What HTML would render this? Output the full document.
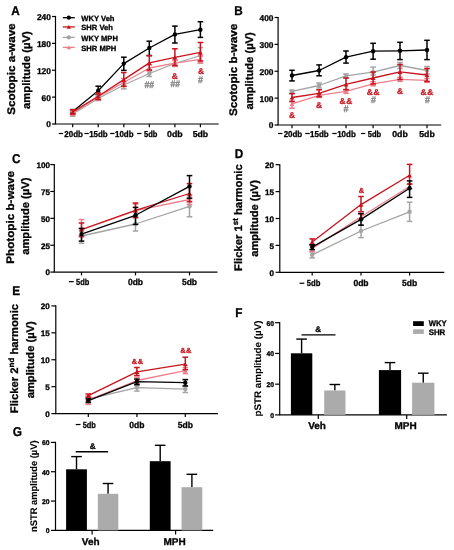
<!DOCTYPE html>
<html><head><meta charset="utf-8"><title>Figure</title>
<style>
html,body{margin:0;padding:0;background:#fff;}
body{width:454px;height:550px;overflow:hidden;}
svg{display:block;will-change:transform;text-rendering:geometricPrecision;}
text{font-family:"Liberation Sans", sans-serif;stroke:currentColor;stroke-width:0.3px;}
</style></head><body>
<svg width="454" height="550" viewBox="0 0 454 550">
<rect width="454" height="550" fill="#fff"/>
<text x="15.60" y="14.80" font-size="12.8" font-weight="bold" text-anchor="middle" fill="#000" color="#000" textLength="8.5" lengthAdjust="spacingAndGlyphs">A</text>
<text x="0" y="0" font-size="11.0" font-weight="bold" text-anchor="middle" fill="#000" textLength="91.4" lengthAdjust="spacingAndGlyphs" transform="translate(14.80,69.10) rotate(-90)">Scotopic a-wave</text>
<text x="0" y="0" font-size="11.0" font-weight="bold" text-anchor="middle" fill="#000" textLength="77.6" lengthAdjust="spacingAndGlyphs" transform="translate(30.20,70.10) rotate(-90)">amplitude (µV)</text>
<line x1="55.50" y1="15.90" x2="55.50" y2="124.00" stroke="#000" stroke-width="1.2"/>
<line x1="52.00" y1="124.00" x2="55.50" y2="124.00" stroke="#000" stroke-width="1.2"/>
<text x="50.90" y="127.41" font-size="8.4" font-weight="bold" text-anchor="end" fill="#000" color="#000">0</text>
<line x1="52.00" y1="97.12" x2="55.50" y2="97.12" stroke="#000" stroke-width="1.2"/>
<text x="50.90" y="100.53" font-size="8.4" font-weight="bold" text-anchor="end" fill="#000" color="#000">60</text>
<line x1="52.00" y1="70.25" x2="55.50" y2="70.25" stroke="#000" stroke-width="1.2"/>
<text x="50.90" y="73.66" font-size="8.4" font-weight="bold" text-anchor="end" fill="#000" color="#000">120</text>
<line x1="52.00" y1="43.38" x2="55.50" y2="43.38" stroke="#000" stroke-width="1.2"/>
<text x="50.90" y="46.78" font-size="8.4" font-weight="bold" text-anchor="end" fill="#000" color="#000">180</text>
<line x1="52.00" y1="16.50" x2="55.50" y2="16.50" stroke="#000" stroke-width="1.2"/>
<text x="50.90" y="19.91" font-size="8.4" font-weight="bold" text-anchor="end" fill="#000" color="#000">240</text>
<line x1="54.90" y1="124.00" x2="218.70" y2="124.00" stroke="#000" stroke-width="1.2"/>
<line x1="72.70" y1="124.00" x2="72.70" y2="127.30" stroke="#000" stroke-width="1.2"/>
<rect x="58.75" y="132.90" width="4.40" height="1.20" fill="#000"/>
<text x="73.65" y="136.60" font-size="8.6" font-weight="bold" text-anchor="middle" fill="#000" color="#000" textLength="18.6" lengthAdjust="spacingAndGlyphs">20db</text>
<line x1="98.20" y1="124.00" x2="98.20" y2="127.30" stroke="#000" stroke-width="1.2"/>
<rect x="84.40" y="132.90" width="4.40" height="1.20" fill="#000"/>
<text x="98.45" y="136.60" font-size="8.6" font-weight="bold" text-anchor="middle" fill="#000" color="#000" textLength="18.6" lengthAdjust="spacingAndGlyphs">15db</text>
<line x1="123.80" y1="124.00" x2="123.80" y2="127.30" stroke="#000" stroke-width="1.2"/>
<rect x="110.10" y="132.90" width="4.40" height="1.20" fill="#000"/>
<text x="124.30" y="136.60" font-size="8.6" font-weight="bold" text-anchor="middle" fill="#000" color="#000" textLength="18.6" lengthAdjust="spacingAndGlyphs">10db</text>
<line x1="149.30" y1="124.00" x2="149.30" y2="127.30" stroke="#000" stroke-width="1.2"/>
<rect x="137.10" y="132.90" width="4.40" height="1.20" fill="#000"/>
<text x="150.65" y="136.60" font-size="8.6" font-weight="bold" text-anchor="middle" fill="#000" color="#000" textLength="13.4" lengthAdjust="spacingAndGlyphs">5db</text>
<line x1="174.90" y1="124.00" x2="174.90" y2="127.30" stroke="#000" stroke-width="1.2"/>
<text x="174.90" y="136.60" font-size="8.6" font-weight="bold" text-anchor="middle" fill="#000" color="#000" textLength="15.6" lengthAdjust="spacingAndGlyphs">0db</text>
<line x1="200.40" y1="124.00" x2="200.40" y2="127.30" stroke="#000" stroke-width="1.2"/>
<text x="200.40" y="136.60" font-size="8.6" font-weight="bold" text-anchor="middle" fill="#000" color="#000" textLength="15.5" lengthAdjust="spacingAndGlyphs">5db</text>
<path d="M72.70,111.40 L98.20,90.70 L123.80,63.60 L149.30,48.00 L174.90,34.40 L200.40,29.70" fill="none" stroke="#000000" stroke-width="1.3" stroke-linejoin="round"/>
<line x1="72.70" y1="109.60" x2="72.70" y2="113.20" stroke="#000000" stroke-width="1.5"/>
<line x1="69.90" y1="109.60" x2="75.50" y2="109.60" stroke="#000000" stroke-width="1.5"/>
<line x1="69.90" y1="113.20" x2="75.50" y2="113.20" stroke="#000000" stroke-width="1.5"/>
<line x1="98.20" y1="86.20" x2="98.20" y2="94.60" stroke="#000000" stroke-width="1.5"/>
<line x1="95.40" y1="86.20" x2="101.00" y2="86.20" stroke="#000000" stroke-width="1.5"/>
<line x1="95.40" y1="94.60" x2="101.00" y2="94.60" stroke="#000000" stroke-width="1.5"/>
<line x1="123.80" y1="57.20" x2="123.80" y2="70.40" stroke="#000000" stroke-width="1.5"/>
<line x1="121.00" y1="57.20" x2="126.60" y2="57.20" stroke="#000000" stroke-width="1.5"/>
<line x1="121.00" y1="70.40" x2="126.60" y2="70.40" stroke="#000000" stroke-width="1.5"/>
<line x1="149.30" y1="41.20" x2="149.30" y2="55.60" stroke="#000000" stroke-width="1.5"/>
<line x1="146.50" y1="41.20" x2="152.10" y2="41.20" stroke="#000000" stroke-width="1.5"/>
<line x1="146.50" y1="55.60" x2="152.10" y2="55.60" stroke="#000000" stroke-width="1.5"/>
<line x1="174.90" y1="26.10" x2="174.90" y2="43.00" stroke="#000000" stroke-width="1.5"/>
<line x1="172.10" y1="26.10" x2="177.70" y2="26.10" stroke="#000000" stroke-width="1.5"/>
<line x1="172.10" y1="43.00" x2="177.70" y2="43.00" stroke="#000000" stroke-width="1.5"/>
<line x1="200.40" y1="21.70" x2="200.40" y2="37.40" stroke="#000000" stroke-width="1.5"/>
<line x1="197.60" y1="21.70" x2="203.20" y2="21.70" stroke="#000000" stroke-width="1.5"/>
<line x1="197.60" y1="37.40" x2="203.20" y2="37.40" stroke="#000000" stroke-width="1.5"/>
<circle cx="72.70" cy="111.40" r="2.2" fill="#000000"/>
<circle cx="98.20" cy="90.70" r="2.2" fill="#000000"/>
<circle cx="123.80" cy="63.60" r="2.2" fill="#000000"/>
<circle cx="149.30" cy="48.00" r="2.2" fill="#000000"/>
<circle cx="174.90" cy="34.40" r="2.2" fill="#000000"/>
<circle cx="200.40" cy="29.70" r="2.2" fill="#000000"/>
<path d="M72.70,114.00 L98.20,98.50 L123.80,85.00 L149.30,73.50 L174.90,63.50 L200.40,55.50" fill="none" stroke="#a4a4a4" stroke-width="1.3" stroke-linejoin="round"/>
<line x1="72.70" y1="111.80" x2="72.70" y2="116.30" stroke="#a4a4a4" stroke-width="1.5"/>
<line x1="69.90" y1="111.80" x2="75.50" y2="111.80" stroke="#a4a4a4" stroke-width="1.5"/>
<line x1="69.90" y1="116.30" x2="75.50" y2="116.30" stroke="#a4a4a4" stroke-width="1.5"/>
<line x1="98.20" y1="96.50" x2="98.20" y2="100.50" stroke="#a4a4a4" stroke-width="1.5"/>
<line x1="95.40" y1="96.50" x2="101.00" y2="96.50" stroke="#a4a4a4" stroke-width="1.5"/>
<line x1="95.40" y1="100.50" x2="101.00" y2="100.50" stroke="#a4a4a4" stroke-width="1.5"/>
<line x1="123.80" y1="82.00" x2="123.80" y2="88.90" stroke="#a4a4a4" stroke-width="1.5"/>
<line x1="121.00" y1="82.00" x2="126.60" y2="82.00" stroke="#a4a4a4" stroke-width="1.5"/>
<line x1="121.00" y1="88.90" x2="126.60" y2="88.90" stroke="#a4a4a4" stroke-width="1.5"/>
<line x1="149.30" y1="70.50" x2="149.30" y2="76.50" stroke="#a4a4a4" stroke-width="1.5"/>
<line x1="146.50" y1="70.50" x2="152.10" y2="70.50" stroke="#a4a4a4" stroke-width="1.5"/>
<line x1="146.50" y1="76.50" x2="152.10" y2="76.50" stroke="#a4a4a4" stroke-width="1.5"/>
<line x1="174.90" y1="60.50" x2="174.90" y2="66.50" stroke="#a4a4a4" stroke-width="1.5"/>
<line x1="172.10" y1="60.50" x2="177.70" y2="60.50" stroke="#a4a4a4" stroke-width="1.5"/>
<line x1="172.10" y1="66.50" x2="177.70" y2="66.50" stroke="#a4a4a4" stroke-width="1.5"/>
<line x1="200.40" y1="47.50" x2="200.40" y2="63.00" stroke="#a4a4a4" stroke-width="1.5"/>
<line x1="197.60" y1="47.50" x2="203.20" y2="47.50" stroke="#a4a4a4" stroke-width="1.5"/>
<line x1="197.60" y1="63.00" x2="203.20" y2="63.00" stroke="#a4a4a4" stroke-width="1.5"/>
<circle cx="72.70" cy="114.00" r="2.2" fill="#a4a4a4"/>
<circle cx="98.20" cy="98.50" r="2.2" fill="#a4a4a4"/>
<circle cx="123.80" cy="85.00" r="2.2" fill="#a4a4a4"/>
<circle cx="149.30" cy="73.50" r="2.2" fill="#a4a4a4"/>
<circle cx="174.90" cy="63.50" r="2.2" fill="#a4a4a4"/>
<circle cx="200.40" cy="55.50" r="2.2" fill="#a4a4a4"/>
<path d="M72.70,113.00 L98.20,96.80 L123.80,82.50 L149.30,68.00 L174.90,63.20 L200.40,59.40" fill="none" stroke="#ef7f8c" stroke-width="1.3" stroke-linejoin="round"/>
<line x1="72.70" y1="111.00" x2="72.70" y2="115.00" stroke="#ef7f8c" stroke-width="1.5"/>
<line x1="69.90" y1="111.00" x2="75.50" y2="111.00" stroke="#ef7f8c" stroke-width="1.5"/>
<line x1="69.90" y1="115.00" x2="75.50" y2="115.00" stroke="#ef7f8c" stroke-width="1.5"/>
<line x1="98.20" y1="93.80" x2="98.20" y2="99.80" stroke="#ef7f8c" stroke-width="1.5"/>
<line x1="95.40" y1="93.80" x2="101.00" y2="93.80" stroke="#ef7f8c" stroke-width="1.5"/>
<line x1="95.40" y1="99.80" x2="101.00" y2="99.80" stroke="#ef7f8c" stroke-width="1.5"/>
<line x1="123.80" y1="78.50" x2="123.80" y2="86.50" stroke="#ef7f8c" stroke-width="1.5"/>
<line x1="121.00" y1="78.50" x2="126.60" y2="78.50" stroke="#ef7f8c" stroke-width="1.5"/>
<line x1="121.00" y1="86.50" x2="126.60" y2="86.50" stroke="#ef7f8c" stroke-width="1.5"/>
<line x1="149.30" y1="65.00" x2="149.30" y2="71.00" stroke="#ef7f8c" stroke-width="1.5"/>
<line x1="146.50" y1="65.00" x2="152.10" y2="65.00" stroke="#ef7f8c" stroke-width="1.5"/>
<line x1="146.50" y1="71.00" x2="152.10" y2="71.00" stroke="#ef7f8c" stroke-width="1.5"/>
<line x1="174.90" y1="60.20" x2="174.90" y2="66.20" stroke="#ef7f8c" stroke-width="1.5"/>
<line x1="172.10" y1="60.20" x2="177.70" y2="60.20" stroke="#ef7f8c" stroke-width="1.5"/>
<line x1="172.10" y1="66.20" x2="177.70" y2="66.20" stroke="#ef7f8c" stroke-width="1.5"/>
<line x1="200.40" y1="56.00" x2="200.40" y2="63.00" stroke="#ef7f8c" stroke-width="1.5"/>
<line x1="197.60" y1="56.00" x2="203.20" y2="56.00" stroke="#ef7f8c" stroke-width="1.5"/>
<line x1="197.60" y1="63.00" x2="203.20" y2="63.00" stroke="#ef7f8c" stroke-width="1.5"/>
<polygon points="70.28,115.11 75.12,115.11 72.70,110.89" fill="#ef7f8c"/>
<polygon points="95.78,98.91 100.62,98.91 98.20,94.69" fill="#ef7f8c"/>
<polygon points="121.38,84.61 126.22,84.61 123.80,80.39" fill="#ef7f8c"/>
<polygon points="146.88,70.11 151.72,70.11 149.30,65.89" fill="#ef7f8c"/>
<polygon points="172.48,65.31 177.32,65.31 174.90,61.09" fill="#ef7f8c"/>
<polygon points="197.98,61.51 202.82,61.51 200.40,57.29" fill="#ef7f8c"/>
<path d="M72.70,112.00 L98.20,96.20 L123.80,79.60 L149.30,62.90 L174.90,57.40 L200.40,52.30" fill="none" stroke="#c8141e" stroke-width="1.3" stroke-linejoin="round"/>
<line x1="72.70" y1="109.70" x2="72.70" y2="114.10" stroke="#c8141e" stroke-width="1.5"/>
<line x1="69.90" y1="109.70" x2="75.50" y2="109.70" stroke="#c8141e" stroke-width="1.5"/>
<line x1="69.90" y1="114.10" x2="75.50" y2="114.10" stroke="#c8141e" stroke-width="1.5"/>
<line x1="98.20" y1="93.00" x2="98.20" y2="99.50" stroke="#c8141e" stroke-width="1.5"/>
<line x1="95.40" y1="93.00" x2="101.00" y2="93.00" stroke="#c8141e" stroke-width="1.5"/>
<line x1="95.40" y1="99.50" x2="101.00" y2="99.50" stroke="#c8141e" stroke-width="1.5"/>
<line x1="123.80" y1="72.60" x2="123.80" y2="86.30" stroke="#c8141e" stroke-width="1.5"/>
<line x1="121.00" y1="72.60" x2="126.60" y2="72.60" stroke="#c8141e" stroke-width="1.5"/>
<line x1="121.00" y1="86.30" x2="126.60" y2="86.30" stroke="#c8141e" stroke-width="1.5"/>
<line x1="149.30" y1="55.60" x2="149.30" y2="70.00" stroke="#c8141e" stroke-width="1.5"/>
<line x1="146.50" y1="55.60" x2="152.10" y2="55.60" stroke="#c8141e" stroke-width="1.5"/>
<line x1="146.50" y1="70.00" x2="152.10" y2="70.00" stroke="#c8141e" stroke-width="1.5"/>
<line x1="174.90" y1="48.80" x2="174.90" y2="65.50" stroke="#c8141e" stroke-width="1.5"/>
<line x1="172.10" y1="48.80" x2="177.70" y2="48.80" stroke="#c8141e" stroke-width="1.5"/>
<line x1="172.10" y1="65.50" x2="177.70" y2="65.50" stroke="#c8141e" stroke-width="1.5"/>
<line x1="200.40" y1="42.50" x2="200.40" y2="61.00" stroke="#c8141e" stroke-width="1.5"/>
<line x1="197.60" y1="42.50" x2="203.20" y2="42.50" stroke="#c8141e" stroke-width="1.5"/>
<line x1="197.60" y1="61.00" x2="203.20" y2="61.00" stroke="#c8141e" stroke-width="1.5"/>
<polygon points="70.28,114.11 75.12,114.11 72.70,109.89" fill="#c8141e"/>
<polygon points="95.78,98.31 100.62,98.31 98.20,94.09" fill="#c8141e"/>
<polygon points="121.38,81.71 126.22,81.71 123.80,77.49" fill="#c8141e"/>
<polygon points="146.88,65.01 151.72,65.01 149.30,60.79" fill="#c8141e"/>
<polygon points="172.48,59.51 177.32,59.51 174.90,55.29" fill="#c8141e"/>
<polygon points="197.98,54.41 202.82,54.41 200.40,50.19" fill="#c8141e"/>
<text x="149.30" y="88.06" font-size="9.6" font-weight="bold" text-anchor="middle" fill="#858585" color="#858585" textLength="9.6" lengthAdjust="spacingAndGlyphs">##</text>
<text x="174.70" y="79.22" font-size="8.4" font-weight="bold" text-anchor="middle" fill="#c8141e" color="#c8141e">&amp;</text>
<text x="175.30" y="87.36" font-size="9.6" font-weight="bold" text-anchor="middle" fill="#858585" color="#858585" textLength="9.6" lengthAdjust="spacingAndGlyphs">##</text>
<text x="201.00" y="74.32" font-size="8.4" font-weight="bold" text-anchor="middle" fill="#c8141e" color="#c8141e">&amp;</text>
<text x="200.40" y="82.86" font-size="9.6" font-weight="bold" text-anchor="middle" fill="#858585" color="#858585" textLength="5.0" lengthAdjust="spacingAndGlyphs">#</text>
<line x1="62.80" y1="17.70" x2="74.80" y2="17.70" stroke="#000000" stroke-width="1.3"/>
<circle cx="68.80" cy="17.70" r="2.1" fill="#000000"/>
<text x="81.30" y="20.80" font-size="7.6" font-weight="bold" text-anchor="start" fill="#000" color="#000">WKY Veh</text>
<line x1="62.80" y1="26.90" x2="74.80" y2="26.90" stroke="#c8141e" stroke-width="1.3"/>
<polygon points="66.60,28.81 71.00,28.81 68.80,24.99" fill="#c8141e"/>
<text x="81.30" y="30.00" font-size="7.6" font-weight="bold" text-anchor="start" fill="#000" color="#000">SHR Veh</text>
<line x1="62.80" y1="37.40" x2="74.80" y2="37.40" stroke="#a4a4a4" stroke-width="1.3"/>
<circle cx="68.80" cy="37.40" r="2.1" fill="#a4a4a4"/>
<text x="81.30" y="40.50" font-size="7.6" font-weight="bold" text-anchor="start" fill="#000" color="#000">WKY MPH</text>
<line x1="62.80" y1="47.40" x2="74.80" y2="47.40" stroke="#ef7f8c" stroke-width="1.3"/>
<polygon points="66.60,49.31 71.00,49.31 68.80,45.49" fill="#ef7f8c"/>
<text x="81.30" y="50.50" font-size="7.6" font-weight="bold" text-anchor="start" fill="#000" color="#000">SHR MPH</text>
<text x="238.60" y="14.80" font-size="12.8" font-weight="bold" text-anchor="middle" fill="#000" color="#000" textLength="8.5" lengthAdjust="spacingAndGlyphs">B</text>
<text x="0" y="0" font-size="11.0" font-weight="bold" text-anchor="middle" fill="#000" textLength="92.3" lengthAdjust="spacingAndGlyphs" transform="translate(237.40,69.95) rotate(-90)">Scotopic b-wave</text>
<text x="0" y="0" font-size="11.0" font-weight="bold" text-anchor="middle" fill="#000" textLength="77.3" lengthAdjust="spacingAndGlyphs" transform="translate(252.60,70.85) rotate(-90)">amplitude (µV)</text>
<line x1="278.10" y1="16.90" x2="278.10" y2="125.00" stroke="#000" stroke-width="1.2"/>
<line x1="274.60" y1="125.00" x2="278.10" y2="125.00" stroke="#000" stroke-width="1.2"/>
<text x="273.50" y="128.41" font-size="8.4" font-weight="bold" text-anchor="end" fill="#000" color="#000">0</text>
<line x1="274.60" y1="98.12" x2="278.10" y2="98.12" stroke="#000" stroke-width="1.2"/>
<text x="273.50" y="101.53" font-size="8.4" font-weight="bold" text-anchor="end" fill="#000" color="#000">100</text>
<line x1="274.60" y1="71.25" x2="278.10" y2="71.25" stroke="#000" stroke-width="1.2"/>
<text x="273.50" y="74.66" font-size="8.4" font-weight="bold" text-anchor="end" fill="#000" color="#000">200</text>
<line x1="274.60" y1="44.38" x2="278.10" y2="44.38" stroke="#000" stroke-width="1.2"/>
<text x="273.50" y="47.78" font-size="8.4" font-weight="bold" text-anchor="end" fill="#000" color="#000">300</text>
<line x1="274.60" y1="17.50" x2="278.10" y2="17.50" stroke="#000" stroke-width="1.2"/>
<text x="273.50" y="20.91" font-size="8.4" font-weight="bold" text-anchor="end" fill="#000" color="#000">400</text>
<line x1="277.50" y1="125.00" x2="441.20" y2="125.00" stroke="#000" stroke-width="1.2"/>
<line x1="292.00" y1="125.00" x2="292.00" y2="128.30" stroke="#000" stroke-width="1.2"/>
<rect x="278.05" y="132.90" width="4.40" height="1.20" fill="#000"/>
<text x="292.95" y="136.60" font-size="8.6" font-weight="bold" text-anchor="middle" fill="#000" color="#000" textLength="18.6" lengthAdjust="spacingAndGlyphs">20db</text>
<line x1="319.10" y1="125.00" x2="319.10" y2="128.30" stroke="#000" stroke-width="1.2"/>
<rect x="305.30" y="132.90" width="4.40" height="1.20" fill="#000"/>
<text x="319.35" y="136.60" font-size="8.6" font-weight="bold" text-anchor="middle" fill="#000" color="#000" textLength="18.6" lengthAdjust="spacingAndGlyphs">15db</text>
<line x1="346.00" y1="125.00" x2="346.00" y2="128.30" stroke="#000" stroke-width="1.2"/>
<rect x="332.30" y="132.90" width="4.40" height="1.20" fill="#000"/>
<text x="346.50" y="136.60" font-size="8.6" font-weight="bold" text-anchor="middle" fill="#000" color="#000" textLength="18.6" lengthAdjust="spacingAndGlyphs">10db</text>
<line x1="373.10" y1="125.00" x2="373.10" y2="128.30" stroke="#000" stroke-width="1.2"/>
<rect x="360.90" y="132.90" width="4.40" height="1.20" fill="#000"/>
<text x="374.45" y="136.60" font-size="8.6" font-weight="bold" text-anchor="middle" fill="#000" color="#000" textLength="13.4" lengthAdjust="spacingAndGlyphs">5db</text>
<line x1="400.00" y1="125.00" x2="400.00" y2="128.30" stroke="#000" stroke-width="1.2"/>
<text x="400.00" y="136.60" font-size="8.6" font-weight="bold" text-anchor="middle" fill="#000" color="#000" textLength="15.6" lengthAdjust="spacingAndGlyphs">0db</text>
<line x1="427.00" y1="125.00" x2="427.00" y2="128.30" stroke="#000" stroke-width="1.2"/>
<text x="427.00" y="136.60" font-size="8.6" font-weight="bold" text-anchor="middle" fill="#000" color="#000" textLength="15.5" lengthAdjust="spacingAndGlyphs">5db</text>
<path d="M292.00,91.40 L319.10,85.50 L346.00,75.90 L373.10,72.10 L400.00,65.50 L427.00,70.50" fill="none" stroke="#a4a4a4" stroke-width="1.3" stroke-linejoin="round"/>
<line x1="292.00" y1="90.30" x2="292.00" y2="93.50" stroke="#a4a4a4" stroke-width="1.5"/>
<line x1="289.20" y1="90.30" x2="294.80" y2="90.30" stroke="#a4a4a4" stroke-width="1.5"/>
<line x1="289.20" y1="93.50" x2="294.80" y2="93.50" stroke="#a4a4a4" stroke-width="1.5"/>
<line x1="319.10" y1="83.00" x2="319.10" y2="88.00" stroke="#a4a4a4" stroke-width="1.5"/>
<line x1="316.30" y1="83.00" x2="321.90" y2="83.00" stroke="#a4a4a4" stroke-width="1.5"/>
<line x1="316.30" y1="88.00" x2="321.90" y2="88.00" stroke="#a4a4a4" stroke-width="1.5"/>
<line x1="346.00" y1="73.90" x2="346.00" y2="77.90" stroke="#a4a4a4" stroke-width="1.5"/>
<line x1="343.20" y1="73.90" x2="348.80" y2="73.90" stroke="#a4a4a4" stroke-width="1.5"/>
<line x1="343.20" y1="77.90" x2="348.80" y2="77.90" stroke="#a4a4a4" stroke-width="1.5"/>
<line x1="373.10" y1="67.10" x2="373.10" y2="75.00" stroke="#a4a4a4" stroke-width="1.5"/>
<line x1="370.30" y1="67.10" x2="375.90" y2="67.10" stroke="#a4a4a4" stroke-width="1.5"/>
<line x1="370.30" y1="75.00" x2="375.90" y2="75.00" stroke="#a4a4a4" stroke-width="1.5"/>
<line x1="400.00" y1="62.50" x2="400.00" y2="68.50" stroke="#a4a4a4" stroke-width="1.5"/>
<line x1="397.20" y1="62.50" x2="402.80" y2="62.50" stroke="#a4a4a4" stroke-width="1.5"/>
<line x1="397.20" y1="68.50" x2="402.80" y2="68.50" stroke="#a4a4a4" stroke-width="1.5"/>
<line x1="427.00" y1="66.50" x2="427.00" y2="74.00" stroke="#a4a4a4" stroke-width="1.5"/>
<line x1="424.20" y1="66.50" x2="429.80" y2="66.50" stroke="#a4a4a4" stroke-width="1.5"/>
<line x1="424.20" y1="74.00" x2="429.80" y2="74.00" stroke="#a4a4a4" stroke-width="1.5"/>
<circle cx="292.00" cy="91.40" r="2.2" fill="#a4a4a4"/>
<circle cx="319.10" cy="85.50" r="2.2" fill="#a4a4a4"/>
<circle cx="346.00" cy="75.90" r="2.2" fill="#a4a4a4"/>
<circle cx="373.10" cy="72.10" r="2.2" fill="#a4a4a4"/>
<circle cx="400.00" cy="65.50" r="2.2" fill="#a4a4a4"/>
<circle cx="427.00" cy="70.50" r="2.2" fill="#a4a4a4"/>
<path d="M292.00,103.80 L319.10,95.40 L346.00,91.40 L373.10,83.80 L400.00,79.40 L427.00,80.40" fill="none" stroke="#ef7f8c" stroke-width="1.3" stroke-linejoin="round"/>
<line x1="292.00" y1="101.70" x2="292.00" y2="108.20" stroke="#ef7f8c" stroke-width="1.5"/>
<line x1="289.20" y1="101.70" x2="294.80" y2="101.70" stroke="#ef7f8c" stroke-width="1.5"/>
<line x1="289.20" y1="108.20" x2="294.80" y2="108.20" stroke="#ef7f8c" stroke-width="1.5"/>
<line x1="319.10" y1="93.40" x2="319.10" y2="97.40" stroke="#ef7f8c" stroke-width="1.5"/>
<line x1="316.30" y1="93.40" x2="321.90" y2="93.40" stroke="#ef7f8c" stroke-width="1.5"/>
<line x1="316.30" y1="97.40" x2="321.90" y2="97.40" stroke="#ef7f8c" stroke-width="1.5"/>
<line x1="346.00" y1="89.40" x2="346.00" y2="93.40" stroke="#ef7f8c" stroke-width="1.5"/>
<line x1="343.20" y1="89.40" x2="348.80" y2="89.40" stroke="#ef7f8c" stroke-width="1.5"/>
<line x1="343.20" y1="93.40" x2="348.80" y2="93.40" stroke="#ef7f8c" stroke-width="1.5"/>
<line x1="373.10" y1="81.80" x2="373.10" y2="85.80" stroke="#ef7f8c" stroke-width="1.5"/>
<line x1="370.30" y1="81.80" x2="375.90" y2="81.80" stroke="#ef7f8c" stroke-width="1.5"/>
<line x1="370.30" y1="85.80" x2="375.90" y2="85.80" stroke="#ef7f8c" stroke-width="1.5"/>
<line x1="400.00" y1="77.40" x2="400.00" y2="81.40" stroke="#ef7f8c" stroke-width="1.5"/>
<line x1="397.20" y1="77.40" x2="402.80" y2="77.40" stroke="#ef7f8c" stroke-width="1.5"/>
<line x1="397.20" y1="81.40" x2="402.80" y2="81.40" stroke="#ef7f8c" stroke-width="1.5"/>
<line x1="427.00" y1="78.40" x2="427.00" y2="82.40" stroke="#ef7f8c" stroke-width="1.5"/>
<line x1="424.20" y1="78.40" x2="429.80" y2="78.40" stroke="#ef7f8c" stroke-width="1.5"/>
<line x1="424.20" y1="82.40" x2="429.80" y2="82.40" stroke="#ef7f8c" stroke-width="1.5"/>
<polygon points="289.58,105.91 294.42,105.91 292.00,101.69" fill="#ef7f8c"/>
<polygon points="316.68,97.51 321.52,97.51 319.10,93.29" fill="#ef7f8c"/>
<polygon points="343.58,93.51 348.42,93.51 346.00,89.29" fill="#ef7f8c"/>
<polygon points="370.68,85.91 375.52,85.91 373.10,81.69" fill="#ef7f8c"/>
<polygon points="397.58,81.51 402.42,81.51 400.00,77.29" fill="#ef7f8c"/>
<polygon points="424.58,82.51 429.42,82.51 427.00,78.29" fill="#ef7f8c"/>
<path d="M292.00,97.50 L319.10,93.40 L346.00,84.30 L373.10,78.00 L400.00,71.90 L427.00,75.00" fill="none" stroke="#c8141e" stroke-width="1.3" stroke-linejoin="round"/>
<line x1="292.00" y1="93.60" x2="292.00" y2="101.40" stroke="#c8141e" stroke-width="1.5"/>
<line x1="289.20" y1="93.60" x2="294.80" y2="93.60" stroke="#c8141e" stroke-width="1.5"/>
<line x1="289.20" y1="101.40" x2="294.80" y2="101.40" stroke="#c8141e" stroke-width="1.5"/>
<line x1="319.10" y1="89.80" x2="319.10" y2="96.80" stroke="#c8141e" stroke-width="1.5"/>
<line x1="316.30" y1="89.80" x2="321.90" y2="89.80" stroke="#c8141e" stroke-width="1.5"/>
<line x1="316.30" y1="96.80" x2="321.90" y2="96.80" stroke="#c8141e" stroke-width="1.5"/>
<line x1="346.00" y1="78.00" x2="346.00" y2="89.80" stroke="#c8141e" stroke-width="1.5"/>
<line x1="343.20" y1="78.00" x2="348.80" y2="78.00" stroke="#c8141e" stroke-width="1.5"/>
<line x1="343.20" y1="89.80" x2="348.80" y2="89.80" stroke="#c8141e" stroke-width="1.5"/>
<line x1="373.10" y1="72.00" x2="373.10" y2="84.00" stroke="#c8141e" stroke-width="1.5"/>
<line x1="370.30" y1="72.00" x2="375.90" y2="72.00" stroke="#c8141e" stroke-width="1.5"/>
<line x1="370.30" y1="84.00" x2="375.90" y2="84.00" stroke="#c8141e" stroke-width="1.5"/>
<line x1="400.00" y1="64.50" x2="400.00" y2="79.40" stroke="#c8141e" stroke-width="1.5"/>
<line x1="397.20" y1="64.50" x2="402.80" y2="64.50" stroke="#c8141e" stroke-width="1.5"/>
<line x1="397.20" y1="79.40" x2="402.80" y2="79.40" stroke="#c8141e" stroke-width="1.5"/>
<line x1="427.00" y1="68.50" x2="427.00" y2="81.40" stroke="#c8141e" stroke-width="1.5"/>
<line x1="424.20" y1="68.50" x2="429.80" y2="68.50" stroke="#c8141e" stroke-width="1.5"/>
<line x1="424.20" y1="81.40" x2="429.80" y2="81.40" stroke="#c8141e" stroke-width="1.5"/>
<polygon points="289.58,99.61 294.42,99.61 292.00,95.39" fill="#c8141e"/>
<polygon points="316.68,95.51 321.52,95.51 319.10,91.29" fill="#c8141e"/>
<polygon points="343.58,86.41 348.42,86.41 346.00,82.19" fill="#c8141e"/>
<polygon points="370.68,80.11 375.52,80.11 373.10,75.89" fill="#c8141e"/>
<polygon points="397.58,74.01 402.42,74.01 400.00,69.79" fill="#c8141e"/>
<polygon points="424.58,77.11 429.42,77.11 427.00,72.89" fill="#c8141e"/>
<path d="M292.00,75.50 L319.10,70.50 L346.00,57.20 L373.10,51.20 L400.00,50.80 L427.00,50.00" fill="none" stroke="#000000" stroke-width="1.3" stroke-linejoin="round"/>
<line x1="292.00" y1="70.30" x2="292.00" y2="80.90" stroke="#000000" stroke-width="1.5"/>
<line x1="289.20" y1="70.30" x2="294.80" y2="70.30" stroke="#000000" stroke-width="1.5"/>
<line x1="289.20" y1="80.90" x2="294.80" y2="80.90" stroke="#000000" stroke-width="1.5"/>
<line x1="319.10" y1="64.90" x2="319.10" y2="75.80" stroke="#000000" stroke-width="1.5"/>
<line x1="316.30" y1="64.90" x2="321.90" y2="64.90" stroke="#000000" stroke-width="1.5"/>
<line x1="316.30" y1="75.80" x2="321.90" y2="75.80" stroke="#000000" stroke-width="1.5"/>
<line x1="346.00" y1="51.00" x2="346.00" y2="63.10" stroke="#000000" stroke-width="1.5"/>
<line x1="343.20" y1="51.00" x2="348.80" y2="51.00" stroke="#000000" stroke-width="1.5"/>
<line x1="343.20" y1="63.10" x2="348.80" y2="63.10" stroke="#000000" stroke-width="1.5"/>
<line x1="373.10" y1="43.30" x2="373.10" y2="59.20" stroke="#000000" stroke-width="1.5"/>
<line x1="370.30" y1="43.30" x2="375.90" y2="43.30" stroke="#000000" stroke-width="1.5"/>
<line x1="370.30" y1="59.20" x2="375.90" y2="59.20" stroke="#000000" stroke-width="1.5"/>
<line x1="400.00" y1="42.30" x2="400.00" y2="59.60" stroke="#000000" stroke-width="1.5"/>
<line x1="397.20" y1="42.30" x2="402.80" y2="42.30" stroke="#000000" stroke-width="1.5"/>
<line x1="397.20" y1="59.60" x2="402.80" y2="59.60" stroke="#000000" stroke-width="1.5"/>
<line x1="427.00" y1="40.30" x2="427.00" y2="59.60" stroke="#000000" stroke-width="1.5"/>
<line x1="424.20" y1="40.30" x2="429.80" y2="40.30" stroke="#000000" stroke-width="1.5"/>
<line x1="424.20" y1="59.60" x2="429.80" y2="59.60" stroke="#000000" stroke-width="1.5"/>
<circle cx="292.00" cy="75.50" r="2.2" fill="#000000"/>
<circle cx="319.10" cy="70.50" r="2.2" fill="#000000"/>
<circle cx="346.00" cy="57.20" r="2.2" fill="#000000"/>
<circle cx="373.10" cy="51.20" r="2.2" fill="#000000"/>
<circle cx="400.00" cy="50.80" r="2.2" fill="#000000"/>
<circle cx="427.00" cy="50.00" r="2.2" fill="#000000"/>
<text x="292.00" y="117.62" font-size="8.4" font-weight="bold" text-anchor="middle" fill="#c8141e" color="#c8141e">&amp;</text>
<text x="319.10" y="108.32" font-size="8.4" font-weight="bold" text-anchor="middle" fill="#c8141e" color="#c8141e">&amp;</text>
<text x="342.64" y="103.72" font-size="8.4" font-weight="bold" text-anchor="middle" fill="#c8141e" color="#c8141e">&amp;</text>
<text x="349.36" y="103.72" font-size="8.4" font-weight="bold" text-anchor="middle" fill="#c8141e" color="#c8141e">&amp;</text>
<text x="346.00" y="111.96" font-size="9.6" font-weight="bold" text-anchor="middle" fill="#858585" color="#858585" textLength="5.0" lengthAdjust="spacingAndGlyphs">#</text>
<text x="369.74" y="95.02" font-size="8.4" font-weight="bold" text-anchor="middle" fill="#c8141e" color="#c8141e">&amp;</text>
<text x="376.46" y="95.02" font-size="8.4" font-weight="bold" text-anchor="middle" fill="#c8141e" color="#c8141e">&amp;</text>
<text x="373.50" y="103.26" font-size="9.6" font-weight="bold" text-anchor="middle" fill="#858585" color="#858585" textLength="5.0" lengthAdjust="spacingAndGlyphs">#</text>
<text x="400.00" y="93.72" font-size="8.4" font-weight="bold" text-anchor="middle" fill="#c8141e" color="#c8141e">&amp;</text>
<text x="423.64" y="95.02" font-size="8.4" font-weight="bold" text-anchor="middle" fill="#c8141e" color="#c8141e">&amp;</text>
<text x="430.36" y="95.02" font-size="8.4" font-weight="bold" text-anchor="middle" fill="#c8141e" color="#c8141e">&amp;</text>
<text x="427.40" y="103.26" font-size="9.6" font-weight="bold" text-anchor="middle" fill="#858585" color="#858585" textLength="5.0" lengthAdjust="spacingAndGlyphs">#</text>
<text x="16.20" y="163.30" font-size="12.8" font-weight="bold" text-anchor="middle" fill="#000" color="#000" textLength="8.5" lengthAdjust="spacingAndGlyphs">C</text>
<text x="0" y="0" font-size="11.0" font-weight="bold" text-anchor="middle" fill="#000" textLength="92.8" lengthAdjust="spacingAndGlyphs" transform="translate(13.70,217.40) rotate(-90)">Photopic b-wave</text>
<text x="0" y="0" font-size="11.0" font-weight="bold" text-anchor="middle" fill="#000" textLength="77.2" lengthAdjust="spacingAndGlyphs" transform="translate(29.00,216.20) rotate(-90)">amplitude (µV)</text>
<line x1="54.30" y1="164.00" x2="54.30" y2="272.10" stroke="#000" stroke-width="1.2"/>
<line x1="50.30" y1="272.10" x2="54.30" y2="272.10" stroke="#000" stroke-width="1.2"/>
<text x="50.00" y="275.40" font-size="8.1" font-weight="bold" text-anchor="end" fill="#000" color="#000">0</text>
<line x1="50.30" y1="245.23" x2="54.30" y2="245.23" stroke="#000" stroke-width="1.2"/>
<text x="50.00" y="248.52" font-size="8.1" font-weight="bold" text-anchor="end" fill="#000" color="#000">25</text>
<line x1="50.30" y1="218.35" x2="54.30" y2="218.35" stroke="#000" stroke-width="1.2"/>
<text x="50.00" y="221.65" font-size="8.1" font-weight="bold" text-anchor="end" fill="#000" color="#000">50</text>
<line x1="50.30" y1="191.48" x2="54.30" y2="191.48" stroke="#000" stroke-width="1.2"/>
<text x="50.00" y="194.77" font-size="8.1" font-weight="bold" text-anchor="end" fill="#000" color="#000">75</text>
<line x1="50.30" y1="164.60" x2="54.30" y2="164.60" stroke="#000" stroke-width="1.2"/>
<text x="50.00" y="167.90" font-size="8.1" font-weight="bold" text-anchor="end" fill="#000" color="#000">100</text>
<line x1="53.70" y1="272.10" x2="217.50" y2="272.10" stroke="#000" stroke-width="1.2"/>
<line x1="81.50" y1="272.10" x2="81.50" y2="275.40" stroke="#000" stroke-width="1.2"/>
<rect x="68.90" y="281.03" width="4.80" height="1.20" fill="#000"/>
<text x="82.60" y="284.80" font-size="8.8" font-weight="bold" text-anchor="middle" fill="#000" color="#000" textLength="13.2" lengthAdjust="spacingAndGlyphs">5db</text>
<line x1="135.50" y1="272.10" x2="135.50" y2="275.40" stroke="#000" stroke-width="1.2"/>
<text x="135.50" y="284.80" font-size="8.8" font-weight="bold" text-anchor="middle" fill="#000" color="#000" textLength="15.2" lengthAdjust="spacingAndGlyphs">0db</text>
<line x1="189.50" y1="272.10" x2="189.50" y2="275.40" stroke="#000" stroke-width="1.2"/>
<text x="189.50" y="284.80" font-size="8.8" font-weight="bold" text-anchor="middle" fill="#000" color="#000" textLength="15.2" lengthAdjust="spacingAndGlyphs">5db</text>
<path d="M81.50,236.00 L135.50,224.00 L189.50,206.40" fill="none" stroke="#a4a4a4" stroke-width="1.3" stroke-linejoin="round"/>
<line x1="81.50" y1="230.00" x2="81.50" y2="243.30" stroke="#a4a4a4" stroke-width="1.5"/>
<line x1="78.70" y1="230.00" x2="84.30" y2="230.00" stroke="#a4a4a4" stroke-width="1.5"/>
<line x1="78.70" y1="243.30" x2="84.30" y2="243.30" stroke="#a4a4a4" stroke-width="1.5"/>
<line x1="135.50" y1="217.50" x2="135.50" y2="231.00" stroke="#a4a4a4" stroke-width="1.5"/>
<line x1="132.70" y1="217.50" x2="138.30" y2="217.50" stroke="#a4a4a4" stroke-width="1.5"/>
<line x1="132.70" y1="231.00" x2="138.30" y2="231.00" stroke="#a4a4a4" stroke-width="1.5"/>
<line x1="189.50" y1="196.00" x2="189.50" y2="216.80" stroke="#a4a4a4" stroke-width="1.5"/>
<line x1="186.70" y1="196.00" x2="192.30" y2="196.00" stroke="#a4a4a4" stroke-width="1.5"/>
<line x1="186.70" y1="216.80" x2="192.30" y2="216.80" stroke="#a4a4a4" stroke-width="1.5"/>
<circle cx="81.50" cy="236.00" r="2.2" fill="#a4a4a4"/>
<circle cx="135.50" cy="224.00" r="2.2" fill="#a4a4a4"/>
<circle cx="189.50" cy="206.40" r="2.2" fill="#a4a4a4"/>
<path d="M81.50,229.80 L135.50,210.60 L189.50,199.50" fill="none" stroke="#ef7f8c" stroke-width="1.3" stroke-linejoin="round"/>
<line x1="81.50" y1="219.50" x2="81.50" y2="237.00" stroke="#ef7f8c" stroke-width="1.5"/>
<line x1="78.70" y1="219.50" x2="84.30" y2="219.50" stroke="#ef7f8c" stroke-width="1.5"/>
<line x1="78.70" y1="237.00" x2="84.30" y2="237.00" stroke="#ef7f8c" stroke-width="1.5"/>
<line x1="135.50" y1="204.00" x2="135.50" y2="218.00" stroke="#ef7f8c" stroke-width="1.5"/>
<line x1="132.70" y1="204.00" x2="138.30" y2="204.00" stroke="#ef7f8c" stroke-width="1.5"/>
<line x1="132.70" y1="218.00" x2="138.30" y2="218.00" stroke="#ef7f8c" stroke-width="1.5"/>
<line x1="189.50" y1="195.00" x2="189.50" y2="204.50" stroke="#ef7f8c" stroke-width="1.5"/>
<line x1="186.70" y1="195.00" x2="192.30" y2="195.00" stroke="#ef7f8c" stroke-width="1.5"/>
<line x1="186.70" y1="204.50" x2="192.30" y2="204.50" stroke="#ef7f8c" stroke-width="1.5"/>
<polygon points="79.08,231.91 83.92,231.91 81.50,227.69" fill="#ef7f8c"/>
<polygon points="133.08,212.71 137.92,212.71 135.50,208.49" fill="#ef7f8c"/>
<polygon points="187.08,201.61 191.92,201.61 189.50,197.39" fill="#ef7f8c"/>
<path d="M81.50,229.50 L135.50,210.30 L189.50,193.50" fill="none" stroke="#c8141e" stroke-width="1.3" stroke-linejoin="round"/>
<line x1="81.50" y1="223.00" x2="81.50" y2="236.00" stroke="#c8141e" stroke-width="1.5"/>
<line x1="78.70" y1="223.00" x2="84.30" y2="223.00" stroke="#c8141e" stroke-width="1.5"/>
<line x1="78.70" y1="236.00" x2="84.30" y2="236.00" stroke="#c8141e" stroke-width="1.5"/>
<line x1="135.50" y1="203.00" x2="135.50" y2="217.20" stroke="#c8141e" stroke-width="1.5"/>
<line x1="132.70" y1="203.00" x2="138.30" y2="203.00" stroke="#c8141e" stroke-width="1.5"/>
<line x1="132.70" y1="217.20" x2="138.30" y2="217.20" stroke="#c8141e" stroke-width="1.5"/>
<line x1="189.50" y1="183.60" x2="189.50" y2="201.80" stroke="#c8141e" stroke-width="1.5"/>
<line x1="186.70" y1="183.60" x2="192.30" y2="183.60" stroke="#c8141e" stroke-width="1.5"/>
<line x1="186.70" y1="201.80" x2="192.30" y2="201.80" stroke="#c8141e" stroke-width="1.5"/>
<polygon points="79.08,231.61 83.92,231.61 81.50,227.39" fill="#c8141e"/>
<polygon points="133.08,212.41 137.92,212.41 135.50,208.19" fill="#c8141e"/>
<polygon points="187.08,195.61 191.92,195.61 189.50,191.39" fill="#c8141e"/>
<path d="M81.50,234.10 L135.50,215.30 L189.50,186.40" fill="none" stroke="#000000" stroke-width="1.3" stroke-linejoin="round"/>
<line x1="81.50" y1="228.40" x2="81.50" y2="241.10" stroke="#000000" stroke-width="1.5"/>
<line x1="78.70" y1="228.40" x2="84.30" y2="228.40" stroke="#000000" stroke-width="1.5"/>
<line x1="78.70" y1="241.10" x2="84.30" y2="241.10" stroke="#000000" stroke-width="1.5"/>
<line x1="135.50" y1="207.40" x2="135.50" y2="224.40" stroke="#000000" stroke-width="1.5"/>
<line x1="132.70" y1="207.40" x2="138.30" y2="207.40" stroke="#000000" stroke-width="1.5"/>
<line x1="132.70" y1="224.40" x2="138.30" y2="224.40" stroke="#000000" stroke-width="1.5"/>
<line x1="189.50" y1="175.60" x2="189.50" y2="198.20" stroke="#000000" stroke-width="1.5"/>
<line x1="186.70" y1="175.60" x2="192.30" y2="175.60" stroke="#000000" stroke-width="1.5"/>
<line x1="186.70" y1="198.20" x2="192.30" y2="198.20" stroke="#000000" stroke-width="1.5"/>
<circle cx="81.50" cy="234.10" r="2.2" fill="#000000"/>
<circle cx="135.50" cy="215.30" r="2.2" fill="#000000"/>
<circle cx="189.50" cy="186.40" r="2.2" fill="#000000"/>
<text x="239.10" y="158.20" font-size="12.8" font-weight="bold" text-anchor="middle" fill="#000" color="#000" textLength="8.5" lengthAdjust="spacingAndGlyphs">D</text>
<text x="0" y="0" font-size="11.0" font-weight="bold" text-anchor="middle" fill="#000" textLength="106.7" lengthAdjust="spacingAndGlyphs" transform="translate(242.20,217.65) rotate(-90)">Flicker 1<tspan font-size="7.8" dy="-4.3">st</tspan><tspan dy="4.3"> harmonic</tspan></text>
<text x="0" y="0" font-size="11.0" font-weight="bold" text-anchor="middle" fill="#000" textLength="76.6" lengthAdjust="spacingAndGlyphs" transform="translate(257.90,218.40) rotate(-90)">amplitude (µV)</text>
<line x1="279.80" y1="164.20" x2="279.80" y2="272.30" stroke="#000" stroke-width="1.2"/>
<line x1="275.60" y1="272.30" x2="279.80" y2="272.30" stroke="#000" stroke-width="1.2"/>
<text x="274.10" y="275.60" font-size="8.1" font-weight="bold" text-anchor="end" fill="#000" color="#000">0</text>
<line x1="275.60" y1="245.40" x2="279.80" y2="245.40" stroke="#000" stroke-width="1.2"/>
<text x="274.10" y="248.70" font-size="8.1" font-weight="bold" text-anchor="end" fill="#000" color="#000">5</text>
<line x1="275.60" y1="218.50" x2="279.80" y2="218.50" stroke="#000" stroke-width="1.2"/>
<text x="274.10" y="221.80" font-size="8.1" font-weight="bold" text-anchor="end" fill="#000" color="#000">10</text>
<line x1="275.60" y1="191.60" x2="279.80" y2="191.60" stroke="#000" stroke-width="1.2"/>
<text x="274.10" y="194.90" font-size="8.1" font-weight="bold" text-anchor="end" fill="#000" color="#000">15</text>
<line x1="275.60" y1="164.70" x2="279.80" y2="164.70" stroke="#000" stroke-width="1.2"/>
<text x="274.10" y="168.00" font-size="8.1" font-weight="bold" text-anchor="end" fill="#000" color="#000">20</text>
<line x1="279.20" y1="272.30" x2="444.30" y2="272.30" stroke="#000" stroke-width="1.2"/>
<line x1="312.20" y1="272.30" x2="312.20" y2="275.60" stroke="#000" stroke-width="1.2"/>
<rect x="299.50" y="282.63" width="4.80" height="1.20" fill="#000"/>
<text x="313.65" y="286.40" font-size="8.8" font-weight="bold" text-anchor="middle" fill="#000" color="#000" textLength="13.6" lengthAdjust="spacingAndGlyphs">5db</text>
<line x1="361.00" y1="272.30" x2="361.00" y2="275.60" stroke="#000" stroke-width="1.2"/>
<text x="361.00" y="286.40" font-size="8.8" font-weight="bold" text-anchor="middle" fill="#000" color="#000" textLength="15.2" lengthAdjust="spacingAndGlyphs">0db</text>
<line x1="409.60" y1="272.30" x2="409.60" y2="275.60" stroke="#000" stroke-width="1.2"/>
<text x="409.60" y="286.40" font-size="8.8" font-weight="bold" text-anchor="middle" fill="#000" color="#000" textLength="15.2" lengthAdjust="spacingAndGlyphs">5db</text>
<path d="M312.20,254.80 L361.00,231.00 L409.60,211.80" fill="none" stroke="#a4a4a4" stroke-width="1.3" stroke-linejoin="round"/>
<line x1="312.20" y1="252.00" x2="312.20" y2="257.90" stroke="#a4a4a4" stroke-width="1.5"/>
<line x1="309.40" y1="252.00" x2="315.00" y2="252.00" stroke="#a4a4a4" stroke-width="1.5"/>
<line x1="309.40" y1="257.90" x2="315.00" y2="257.90" stroke="#a4a4a4" stroke-width="1.5"/>
<line x1="361.00" y1="225.00" x2="361.00" y2="237.60" stroke="#a4a4a4" stroke-width="1.5"/>
<line x1="358.20" y1="225.00" x2="363.80" y2="225.00" stroke="#a4a4a4" stroke-width="1.5"/>
<line x1="358.20" y1="237.60" x2="363.80" y2="237.60" stroke="#a4a4a4" stroke-width="1.5"/>
<line x1="409.60" y1="202.20" x2="409.60" y2="221.40" stroke="#a4a4a4" stroke-width="1.5"/>
<line x1="406.80" y1="202.20" x2="412.40" y2="202.20" stroke="#a4a4a4" stroke-width="1.5"/>
<line x1="406.80" y1="221.40" x2="412.40" y2="221.40" stroke="#a4a4a4" stroke-width="1.5"/>
<circle cx="312.20" cy="254.80" r="2.2" fill="#a4a4a4"/>
<circle cx="361.00" cy="231.00" r="2.2" fill="#a4a4a4"/>
<circle cx="409.60" cy="211.80" r="2.2" fill="#a4a4a4"/>
<path d="M312.20,248.50 L361.00,216.80 L409.60,186.50" fill="none" stroke="#ef7f8c" stroke-width="1.3" stroke-linejoin="round"/>
<line x1="312.20" y1="245.50" x2="312.20" y2="251.50" stroke="#ef7f8c" stroke-width="1.5"/>
<line x1="309.40" y1="245.50" x2="315.00" y2="245.50" stroke="#ef7f8c" stroke-width="1.5"/>
<line x1="309.40" y1="251.50" x2="315.00" y2="251.50" stroke="#ef7f8c" stroke-width="1.5"/>
<line x1="361.00" y1="214.30" x2="361.00" y2="219.30" stroke="#ef7f8c" stroke-width="1.5"/>
<line x1="358.20" y1="214.30" x2="363.80" y2="214.30" stroke="#ef7f8c" stroke-width="1.5"/>
<line x1="358.20" y1="219.30" x2="363.80" y2="219.30" stroke="#ef7f8c" stroke-width="1.5"/>
<line x1="409.60" y1="184.30" x2="409.60" y2="188.70" stroke="#ef7f8c" stroke-width="1.5"/>
<line x1="406.80" y1="184.30" x2="412.40" y2="184.30" stroke="#ef7f8c" stroke-width="1.5"/>
<line x1="406.80" y1="188.70" x2="412.40" y2="188.70" stroke="#ef7f8c" stroke-width="1.5"/>
<polygon points="309.78,250.61 314.62,250.61 312.20,246.39" fill="#ef7f8c"/>
<polygon points="358.58,218.91 363.42,218.91 361.00,214.69" fill="#ef7f8c"/>
<polygon points="407.18,188.61 412.02,188.61 409.60,184.39" fill="#ef7f8c"/>
<path d="M312.20,242.00 L361.00,204.60 L409.60,175.30" fill="none" stroke="#c8141e" stroke-width="1.3" stroke-linejoin="round"/>
<line x1="312.20" y1="238.90" x2="312.20" y2="245.00" stroke="#c8141e" stroke-width="1.5"/>
<line x1="309.40" y1="238.90" x2="315.00" y2="238.90" stroke="#c8141e" stroke-width="1.5"/>
<line x1="309.40" y1="245.00" x2="315.00" y2="245.00" stroke="#c8141e" stroke-width="1.5"/>
<line x1="361.00" y1="196.50" x2="361.00" y2="211.70" stroke="#c8141e" stroke-width="1.5"/>
<line x1="358.20" y1="196.50" x2="363.80" y2="196.50" stroke="#c8141e" stroke-width="1.5"/>
<line x1="358.20" y1="211.70" x2="363.80" y2="211.70" stroke="#c8141e" stroke-width="1.5"/>
<line x1="409.60" y1="164.40" x2="409.60" y2="184.00" stroke="#c8141e" stroke-width="1.5"/>
<line x1="406.80" y1="164.40" x2="412.40" y2="164.40" stroke="#c8141e" stroke-width="1.5"/>
<line x1="406.80" y1="184.00" x2="412.40" y2="184.00" stroke="#c8141e" stroke-width="1.5"/>
<polygon points="309.78,244.11 314.62,244.11 312.20,239.89" fill="#c8141e"/>
<polygon points="358.58,206.71 363.42,206.71 361.00,202.49" fill="#c8141e"/>
<polygon points="407.18,177.41 412.02,177.41 409.60,173.19" fill="#c8141e"/>
<path d="M312.20,247.10 L361.00,219.40 L409.60,188.30" fill="none" stroke="#000000" stroke-width="1.3" stroke-linejoin="round"/>
<line x1="312.20" y1="244.70" x2="312.20" y2="249.60" stroke="#000000" stroke-width="1.5"/>
<line x1="309.40" y1="244.70" x2="315.00" y2="244.70" stroke="#000000" stroke-width="1.5"/>
<line x1="309.40" y1="249.60" x2="315.00" y2="249.60" stroke="#000000" stroke-width="1.5"/>
<line x1="361.00" y1="213.60" x2="361.00" y2="225.20" stroke="#000000" stroke-width="1.5"/>
<line x1="358.20" y1="213.60" x2="363.80" y2="213.60" stroke="#000000" stroke-width="1.5"/>
<line x1="358.20" y1="225.20" x2="363.80" y2="225.20" stroke="#000000" stroke-width="1.5"/>
<line x1="409.60" y1="180.90" x2="409.60" y2="197.40" stroke="#000000" stroke-width="1.5"/>
<line x1="406.80" y1="180.90" x2="412.40" y2="180.90" stroke="#000000" stroke-width="1.5"/>
<line x1="406.80" y1="197.40" x2="412.40" y2="197.40" stroke="#000000" stroke-width="1.5"/>
<circle cx="312.20" cy="247.10" r="2.2" fill="#000000"/>
<circle cx="361.00" cy="219.40" r="2.2" fill="#000000"/>
<circle cx="409.60" cy="188.30" r="2.2" fill="#000000"/>
<text x="361.50" y="193.26" font-size="7.4" font-weight="bold" text-anchor="middle" fill="#c8141e" color="#c8141e">&amp;</text>
<text x="16.15" y="295.40" font-size="12.8" font-weight="bold" text-anchor="middle" fill="#000" color="#000" textLength="7.9" lengthAdjust="spacingAndGlyphs">E</text>
<text x="0" y="0" font-size="11.0" font-weight="bold" text-anchor="middle" fill="#000" textLength="109.3" lengthAdjust="spacingAndGlyphs" transform="translate(18.40,358.55) rotate(-90)">Flicker 2<tspan font-size="7.8" dy="-4.3">nd</tspan><tspan dy="4.3"> harmonic</tspan></text>
<text x="0" y="0" font-size="11.0" font-weight="bold" text-anchor="middle" fill="#000" textLength="77.0" lengthAdjust="spacingAndGlyphs" transform="translate(34.30,359.80) rotate(-90)">amplitude (µV)</text>
<line x1="55.80" y1="305.30" x2="55.80" y2="413.60" stroke="#000" stroke-width="1.2"/>
<line x1="51.40" y1="413.60" x2="55.80" y2="413.60" stroke="#000" stroke-width="1.2"/>
<text x="49.80" y="416.90" font-size="8.1" font-weight="bold" text-anchor="end" fill="#000" color="#000">0</text>
<line x1="51.40" y1="386.68" x2="55.80" y2="386.68" stroke="#000" stroke-width="1.2"/>
<text x="49.80" y="389.97" font-size="8.1" font-weight="bold" text-anchor="end" fill="#000" color="#000">5</text>
<line x1="51.40" y1="359.75" x2="55.80" y2="359.75" stroke="#000" stroke-width="1.2"/>
<text x="49.80" y="363.05" font-size="8.1" font-weight="bold" text-anchor="end" fill="#000" color="#000">10</text>
<line x1="51.40" y1="332.83" x2="55.80" y2="332.83" stroke="#000" stroke-width="1.2"/>
<text x="49.80" y="336.12" font-size="8.1" font-weight="bold" text-anchor="end" fill="#000" color="#000">15</text>
<line x1="51.40" y1="305.90" x2="55.80" y2="305.90" stroke="#000" stroke-width="1.2"/>
<text x="49.80" y="309.20" font-size="8.1" font-weight="bold" text-anchor="end" fill="#000" color="#000">20</text>
<line x1="55.20" y1="413.60" x2="217.90" y2="413.60" stroke="#000" stroke-width="1.2"/>
<line x1="88.30" y1="413.60" x2="88.30" y2="416.90" stroke="#000" stroke-width="1.2"/>
<rect x="75.70" y="423.93" width="4.80" height="1.20" fill="#000"/>
<text x="89.25" y="427.70" font-size="8.8" font-weight="bold" text-anchor="middle" fill="#000" color="#000" textLength="13.1" lengthAdjust="spacingAndGlyphs">5db</text>
<line x1="136.90" y1="413.60" x2="136.90" y2="416.90" stroke="#000" stroke-width="1.2"/>
<text x="136.90" y="427.70" font-size="8.8" font-weight="bold" text-anchor="middle" fill="#000" color="#000" textLength="15.2" lengthAdjust="spacingAndGlyphs">0db</text>
<line x1="185.30" y1="413.60" x2="185.30" y2="416.90" stroke="#000" stroke-width="1.2"/>
<text x="185.30" y="427.70" font-size="8.8" font-weight="bold" text-anchor="middle" fill="#000" color="#000" textLength="15.2" lengthAdjust="spacingAndGlyphs">5db</text>
<path d="M88.30,399.00 L136.90,387.60 L185.30,389.10" fill="none" stroke="#a4a4a4" stroke-width="1.3" stroke-linejoin="round"/>
<line x1="88.30" y1="397.50" x2="88.30" y2="401.00" stroke="#a4a4a4" stroke-width="1.5"/>
<line x1="85.50" y1="397.50" x2="91.10" y2="397.50" stroke="#a4a4a4" stroke-width="1.5"/>
<line x1="85.50" y1="401.00" x2="91.10" y2="401.00" stroke="#a4a4a4" stroke-width="1.5"/>
<line x1="136.90" y1="385.50" x2="136.90" y2="391.10" stroke="#a4a4a4" stroke-width="1.5"/>
<line x1="134.10" y1="385.50" x2="139.70" y2="385.50" stroke="#a4a4a4" stroke-width="1.5"/>
<line x1="134.10" y1="391.10" x2="139.70" y2="391.10" stroke="#a4a4a4" stroke-width="1.5"/>
<line x1="185.30" y1="386.50" x2="185.30" y2="392.50" stroke="#a4a4a4" stroke-width="1.5"/>
<line x1="182.50" y1="386.50" x2="188.10" y2="386.50" stroke="#a4a4a4" stroke-width="1.5"/>
<line x1="182.50" y1="392.50" x2="188.10" y2="392.50" stroke="#a4a4a4" stroke-width="1.5"/>
<circle cx="88.30" cy="399.00" r="2.2" fill="#a4a4a4"/>
<circle cx="136.90" cy="387.60" r="2.2" fill="#a4a4a4"/>
<circle cx="185.30" cy="389.10" r="2.2" fill="#a4a4a4"/>
<path d="M88.30,400.00 L136.90,380.50 L185.30,370.60" fill="none" stroke="#ef7f8c" stroke-width="1.3" stroke-linejoin="round"/>
<line x1="88.30" y1="396.00" x2="88.30" y2="404.40" stroke="#ef7f8c" stroke-width="1.5"/>
<line x1="85.50" y1="396.00" x2="91.10" y2="396.00" stroke="#ef7f8c" stroke-width="1.5"/>
<line x1="85.50" y1="404.40" x2="91.10" y2="404.40" stroke="#ef7f8c" stroke-width="1.5"/>
<line x1="136.90" y1="377.20" x2="136.90" y2="383.50" stroke="#ef7f8c" stroke-width="1.5"/>
<line x1="134.10" y1="377.20" x2="139.70" y2="377.20" stroke="#ef7f8c" stroke-width="1.5"/>
<line x1="134.10" y1="383.50" x2="139.70" y2="383.50" stroke="#ef7f8c" stroke-width="1.5"/>
<line x1="185.30" y1="367.70" x2="185.30" y2="373.60" stroke="#ef7f8c" stroke-width="1.5"/>
<line x1="182.50" y1="367.70" x2="188.10" y2="367.70" stroke="#ef7f8c" stroke-width="1.5"/>
<line x1="182.50" y1="373.60" x2="188.10" y2="373.60" stroke="#ef7f8c" stroke-width="1.5"/>
<polygon points="85.88,402.11 90.72,402.11 88.30,397.89" fill="#ef7f8c"/>
<polygon points="134.48,382.61 139.32,382.61 136.90,378.39" fill="#ef7f8c"/>
<polygon points="182.88,372.71 187.72,372.71 185.30,368.49" fill="#ef7f8c"/>
<path d="M88.30,395.60 L136.90,371.80 L185.30,364.10" fill="none" stroke="#c8141e" stroke-width="1.3" stroke-linejoin="round"/>
<line x1="88.30" y1="394.00" x2="88.30" y2="397.30" stroke="#c8141e" stroke-width="1.5"/>
<line x1="85.50" y1="394.00" x2="91.10" y2="394.00" stroke="#c8141e" stroke-width="1.5"/>
<line x1="85.50" y1="397.30" x2="91.10" y2="397.30" stroke="#c8141e" stroke-width="1.5"/>
<line x1="136.90" y1="367.50" x2="136.90" y2="375.50" stroke="#c8141e" stroke-width="1.5"/>
<line x1="134.10" y1="367.50" x2="139.70" y2="367.50" stroke="#c8141e" stroke-width="1.5"/>
<line x1="134.10" y1="375.50" x2="139.70" y2="375.50" stroke="#c8141e" stroke-width="1.5"/>
<line x1="185.30" y1="357.20" x2="185.30" y2="369.70" stroke="#c8141e" stroke-width="1.5"/>
<line x1="182.50" y1="357.20" x2="188.10" y2="357.20" stroke="#c8141e" stroke-width="1.5"/>
<line x1="182.50" y1="369.70" x2="188.10" y2="369.70" stroke="#c8141e" stroke-width="1.5"/>
<polygon points="85.88,397.71 90.72,397.71 88.30,393.49" fill="#c8141e"/>
<polygon points="134.48,373.91 139.32,373.91 136.90,369.69" fill="#c8141e"/>
<polygon points="182.88,366.21 187.72,366.21 185.30,361.99" fill="#c8141e"/>
<path d="M88.30,400.70 L136.90,381.70 L185.30,382.70" fill="none" stroke="#000000" stroke-width="1.3" stroke-linejoin="round"/>
<line x1="88.30" y1="398.90" x2="88.30" y2="402.50" stroke="#000000" stroke-width="1.5"/>
<line x1="85.50" y1="398.90" x2="91.10" y2="398.90" stroke="#000000" stroke-width="1.5"/>
<line x1="85.50" y1="402.50" x2="91.10" y2="402.50" stroke="#000000" stroke-width="1.5"/>
<line x1="136.90" y1="379.10" x2="136.90" y2="384.60" stroke="#000000" stroke-width="1.5"/>
<line x1="134.10" y1="379.10" x2="139.70" y2="379.10" stroke="#000000" stroke-width="1.5"/>
<line x1="134.10" y1="384.60" x2="139.70" y2="384.60" stroke="#000000" stroke-width="1.5"/>
<line x1="185.30" y1="379.60" x2="185.30" y2="385.90" stroke="#000000" stroke-width="1.5"/>
<line x1="182.50" y1="379.60" x2="188.10" y2="379.60" stroke="#000000" stroke-width="1.5"/>
<line x1="182.50" y1="385.90" x2="188.10" y2="385.90" stroke="#000000" stroke-width="1.5"/>
<circle cx="88.30" cy="400.70" r="2.2" fill="#000000"/>
<circle cx="136.90" cy="381.70" r="2.2" fill="#000000"/>
<circle cx="185.30" cy="382.70" r="2.2" fill="#000000"/>
<text x="134.54" y="363.86" font-size="7.4" font-weight="bold" text-anchor="middle" fill="#c8141e" color="#c8141e">&amp;</text>
<text x="140.46" y="363.86" font-size="7.4" font-weight="bold" text-anchor="middle" fill="#c8141e" color="#c8141e">&amp;</text>
<text x="182.84" y="352.86" font-size="7.4" font-weight="bold" text-anchor="middle" fill="#c8141e" color="#c8141e">&amp;</text>
<text x="188.76" y="352.86" font-size="7.4" font-weight="bold" text-anchor="middle" fill="#c8141e" color="#c8141e">&amp;</text>
<text x="238.90" y="316.70" font-size="12.8" font-weight="bold" text-anchor="middle" fill="#000" color="#000" textLength="7.2" lengthAdjust="spacingAndGlyphs">F</text>
<text x="0" y="0" style="stroke-width:0.1px" font-size="9.6" font-weight="bold" text-anchor="middle" fill="#000" textLength="96.1" lengthAdjust="spacingAndGlyphs" transform="translate(261.20,368.55) rotate(-90)">pSTR amplitude (µV)</text>
<line x1="279.70" y1="322.10" x2="279.70" y2="414.90" stroke="#000" stroke-width="1.2"/>
<line x1="275.10" y1="414.90" x2="279.70" y2="414.90" stroke="#000" stroke-width="1.2"/>
<text x="274.10" y="417.73" font-size="6.8" font-weight="bold" text-anchor="end" fill="#000" color="#000">0</text>
<line x1="275.10" y1="384.17" x2="279.70" y2="384.17" stroke="#000" stroke-width="1.2"/>
<text x="274.10" y="387.00" font-size="6.8" font-weight="bold" text-anchor="end" fill="#000" color="#000">20</text>
<line x1="275.10" y1="353.43" x2="279.70" y2="353.43" stroke="#000" stroke-width="1.2"/>
<text x="274.10" y="356.27" font-size="6.8" font-weight="bold" text-anchor="end" fill="#000" color="#000">40</text>
<line x1="275.10" y1="322.70" x2="279.70" y2="322.70" stroke="#000" stroke-width="1.2"/>
<text x="274.10" y="325.53" font-size="6.8" font-weight="bold" text-anchor="end" fill="#000" color="#000">60</text>
<line x1="279.10" y1="414.90" x2="446.90" y2="414.90" stroke="#000" stroke-width="1.2"/>
<line x1="318.30" y1="414.90" x2="318.30" y2="419.10" stroke="#000" stroke-width="1.2"/>
<text x="317.10" y="429.20" font-size="10.0" font-weight="bold" text-anchor="middle" fill="#000" color="#000">Veh</text>
<line x1="406.70" y1="414.90" x2="406.70" y2="419.10" stroke="#000" stroke-width="1.2"/>
<text x="405.50" y="429.20" font-size="10.0" font-weight="bold" text-anchor="middle" fill="#000" color="#000">MPH</text>
<line x1="301.60" y1="339.10" x2="301.60" y2="353.30" stroke="#000" stroke-width="1.4"/>
<line x1="296.30" y1="339.10" x2="306.90" y2="339.10" stroke="#000" stroke-width="1.4"/>
<rect x="290.90" y="353.30" width="21.40" height="61.60" fill="#000"/>
<line x1="334.85" y1="384.50" x2="334.85" y2="390.50" stroke="#000" stroke-width="1.4"/>
<line x1="329.55" y1="384.50" x2="340.15" y2="384.50" stroke="#000" stroke-width="1.4"/>
<rect x="324.20" y="390.50" width="21.30" height="24.40" fill="#ababab"/>
<line x1="390.00" y1="362.60" x2="390.00" y2="370.10" stroke="#000" stroke-width="1.4"/>
<line x1="384.70" y1="362.60" x2="395.30" y2="362.60" stroke="#000" stroke-width="1.4"/>
<rect x="378.90" y="370.10" width="22.20" height="44.80" fill="#000"/>
<line x1="423.25" y1="373.20" x2="423.25" y2="382.70" stroke="#000" stroke-width="1.4"/>
<line x1="417.95" y1="373.20" x2="428.55" y2="373.20" stroke="#000" stroke-width="1.4"/>
<rect x="412.10" y="382.70" width="22.30" height="32.20" fill="#ababab"/>
<line x1="301.50" y1="334.90" x2="335.50" y2="334.90" stroke="#000" stroke-width="1.4"/>
<text x="318.20" y="331.90" font-size="8.2" font-weight="bold" text-anchor="middle" fill="#000" color="#000">&amp;</text>
<rect x="413.10" y="321.20" width="10.70" height="4.80" fill="#000"/>
<rect x="413.10" y="329.30" width="10.70" height="4.60" fill="#ababab"/>
<text x="428.70" y="326.10" font-size="8.1" font-weight="bold" text-anchor="start" fill="#000" color="#000" textLength="18.0" lengthAdjust="spacingAndGlyphs">WKY</text>
<text x="428.70" y="334.50" font-size="8.1" font-weight="bold" text-anchor="start" fill="#000" color="#000" textLength="16.6" lengthAdjust="spacingAndGlyphs">SHR</text>
<text x="17.40" y="436.30" font-size="12.8" font-weight="bold" text-anchor="middle" fill="#000" color="#000" textLength="9.2" lengthAdjust="spacingAndGlyphs">G</text>
<text x="0" y="0" style="stroke-width:0.1px" font-size="9.6" font-weight="bold" text-anchor="middle" fill="#000" textLength="91.6" lengthAdjust="spacingAndGlyphs" transform="translate(36.90,486.20) rotate(-90)">nSTR amplitude (µV)</text>
<line x1="55.50" y1="441.80" x2="55.50" y2="530.40" stroke="#000" stroke-width="1.2"/>
<line x1="50.90" y1="530.40" x2="55.50" y2="530.40" stroke="#000" stroke-width="1.2"/>
<text x="49.60" y="533.23" font-size="6.8" font-weight="bold" text-anchor="end" fill="#000" color="#000">0</text>
<line x1="50.90" y1="501.07" x2="55.50" y2="501.07" stroke="#000" stroke-width="1.2"/>
<text x="49.60" y="503.90" font-size="6.8" font-weight="bold" text-anchor="end" fill="#000" color="#000">20</text>
<line x1="50.90" y1="471.73" x2="55.50" y2="471.73" stroke="#000" stroke-width="1.2"/>
<text x="49.60" y="474.57" font-size="6.8" font-weight="bold" text-anchor="end" fill="#000" color="#000">40</text>
<line x1="50.90" y1="442.40" x2="55.50" y2="442.40" stroke="#000" stroke-width="1.2"/>
<text x="49.60" y="445.23" font-size="6.8" font-weight="bold" text-anchor="end" fill="#000" color="#000">60</text>
<line x1="54.90" y1="530.40" x2="213.20" y2="530.40" stroke="#000" stroke-width="1.2"/>
<line x1="92.10" y1="530.40" x2="92.10" y2="534.60" stroke="#000" stroke-width="1.2"/>
<text x="90.70" y="545.40" font-size="10.0" font-weight="bold" text-anchor="middle" fill="#000" color="#000">Veh</text>
<line x1="175.60" y1="530.40" x2="175.60" y2="534.60" stroke="#000" stroke-width="1.2"/>
<text x="174.50" y="545.40" font-size="10.0" font-weight="bold" text-anchor="middle" fill="#000" color="#000">MPH</text>
<line x1="76.50" y1="456.60" x2="76.50" y2="469.30" stroke="#000" stroke-width="1.4"/>
<line x1="71.20" y1="456.60" x2="81.80" y2="456.60" stroke="#000" stroke-width="1.4"/>
<rect x="66.10" y="469.30" width="20.80" height="61.10" fill="#000"/>
<line x1="108.05" y1="483.50" x2="108.05" y2="493.80" stroke="#000" stroke-width="1.4"/>
<line x1="102.75" y1="483.50" x2="113.35" y2="483.50" stroke="#000" stroke-width="1.4"/>
<rect x="97.80" y="493.80" width="20.50" height="36.60" fill="#ababab"/>
<line x1="160.20" y1="445.30" x2="160.20" y2="461.20" stroke="#000" stroke-width="1.4"/>
<line x1="154.90" y1="445.30" x2="165.50" y2="445.30" stroke="#000" stroke-width="1.4"/>
<rect x="149.80" y="461.20" width="20.80" height="69.20" fill="#000"/>
<line x1="191.90" y1="474.30" x2="191.90" y2="487.20" stroke="#000" stroke-width="1.4"/>
<line x1="186.60" y1="474.30" x2="197.20" y2="474.30" stroke="#000" stroke-width="1.4"/>
<rect x="181.50" y="487.20" width="20.80" height="43.20" fill="#ababab"/>
<line x1="75.70" y1="451.80" x2="108.10" y2="451.80" stroke="#000" stroke-width="1.4"/>
<text x="92.80" y="448.50" font-size="8.2" font-weight="bold" text-anchor="middle" fill="#000" color="#000">&amp;</text>
</svg>
</body></html>
